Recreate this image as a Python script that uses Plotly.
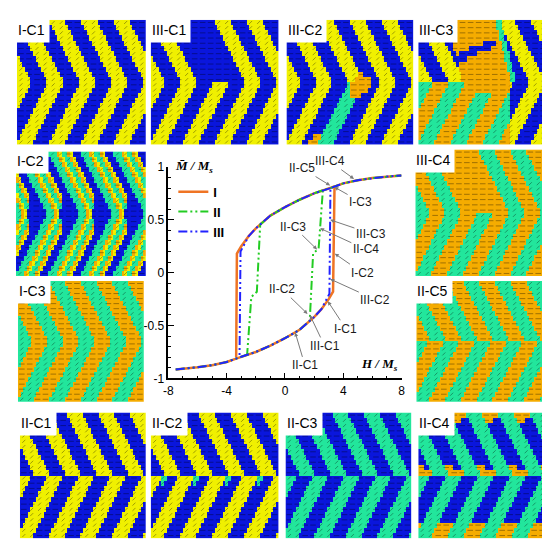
import plotly.graph_objects as go

W, H = 550, 544

# ---- hysteresis loops: H/Ms and mean M/Ms, None splits the two branches ----
I_H = [-7.5, -7, -6, -5, -4, -3.4, -3, -2, -1, 0, 1, 1.7, 2, 2.5, 3.0, 3.3, 3.35, 3.4, 4, 5, 6, 7, 8,
       None, 3.4, 3.1, 2.6, 2, 1, 0, -1, -1.7, -2, -2.5, -3.0, -3.3, -3.35]
I_M = [-0.915, -0.91, -0.895, -0.875, -0.845, -0.815, -0.795, -0.75, -0.69, -0.62, -0.54, -0.455,
       -0.42, -0.345, -0.25, -0.18, 0.80, 0.815, 0.845, 0.875, 0.895, 0.91, 0.92,
       None, 0.815, 0.80, 0.78, 0.75, 0.69, 0.62, 0.54, 0.455, 0.42, 0.345, 0.25, 0.18, -0.80]

II_H = [-7.5, -7, -6, -5, -4, -3, -2, -1, 0, 1, 1.7, 1.93, 2.31, 2.6, 3.1, 4, 5, 6, 7, 8,
        None, 2.6, 2, 1, 0, -1, -1.7, -1.93, -2.31, -2.6]
II_M = [-0.915, -0.91, -0.895, -0.875, -0.845, -0.795, -0.75, -0.69, -0.62, -0.54, -0.455,
        0.18, 0.23, 0.78, 0.80, 0.845, 0.875, 0.895, 0.91, 0.92,
        None, 0.78, 0.75, 0.69, 0.62, 0.54, 0.455, -0.18, -0.23, -0.78]

III_H = [-7.5, -7, -6, -5, -4, -3, -2, -1, 0, 1, 2, 2.5, 3.05, 3.12, 4, 5, 6, 7, 8,
         None, 3.12, 2.6, 2, 1, 0, -1, -2, -2.5, -3.05, -3.12]
III_M = [-0.915, -0.91, -0.895, -0.875, -0.845, -0.795, -0.75, -0.69, -0.62, -0.54, -0.42,
         -0.345, -0.2, 0.80, 0.845, 0.875, 0.895, 0.91, 0.92,
         None, 0.80, 0.78, 0.75, 0.69, 0.62, 0.54, 0.42, 0.345, 0.2, -0.80]

# callouts on the loop: label, arrow tip (H, M), label position (H, M)
CALL_TEXT = ["III-C4", "II-C5", "I-C3", "II-C3", "III-C3", "II-C4",
             "I-C2", "III-C2", "II-C2", "I-C1", "III-C1", "II-C1"]
CALL_TIP_H = [4.74, 3.1, 3.39, 2.2, 3.1, 2.41, 3.42, 3.1, 1.55, 2.94, 1.71, 0.7]
CALL_TIP_M = [0.887, 0.825, 0.81, 0.22, 0.50, 0.42, 0.18, -0.06, -0.39, -0.27, -0.40, -0.565]
CALL_TXT_H = [3.06, 1.15, 5.19, 0.58, 5.9, 5.55, 5.3, 6.2, -0.2, 4.18, 2.72, 1.37]
CALL_TXT_M = [1.055, 0.99, 0.67, 0.436, 0.37, 0.22, 0.0, -0.255, -0.156, -0.53, -0.693, -0.877]

X_TICKS = [-8, -4, 0, 4, 8]
X_TICK_TEXT = ["-8", "-4", "0", "4", "8"]
Y_TICKS = [-1, -0.5, 0, 0.5, 1]
Y_TICK_TEXT = ["-1", "-0.5", "0", "0.5", "1"]

# ---- domain snapshots, 24 rows x 48 columns, top row first ----
# B = blue, Y = yellow, G = green, O = orange
I_C1 = [
    "YYYYYYBBBBBBYYYYYYBBBBBBYYYYYYBBBBBBYYYYYYBBBBBB",
    "BYYYYYYBBBBBBYYYYYYBBBBBBYYYYYYBBBBBBYYYYYYBBBBB",
    "BBYYYYYYBBBBBBYYYYYYBBBBBBYYYYYYBBBBBBYYYYYYBBBB",
    "BBBYYYYYYBBBBBBYYYYYYBBBBBBYYYYYYBBBBBBYYYYYYBBB",
    "BBBBYYYYYYBBBBBBYYYYYYBBBBBBYYYYYYBBBBBBYYYYYYBB",
    "BBBBBYYYYYYBBBBBBYYYYYYBBBBBBYYYYYYBBBBBBYYYYYYB",
    "BBBBBBYYYYYYBBBBBBYYYYYYBBBBBBYYYYYYBBBBBBYYYYYY",
    "YBBBBBBYYYYYYBBBBBBYYYYYYBBBBBBYYYYYYBBBBBBYYYYY",
    "YYBBBBBBYYYYYYBBBBBBYYYYYYBBBBBBYYYYYYBBBBBBYYYY",
    "YYYBBBBBBYYYYYYBBBBBBYYYYYYBBBBBBYYYYYYBBBBBBYYY",
    "YYYYBBBBBBYYYYYYBBBBBBYYYYYYBBBBBBYYYYYYBBBBBBYY",
    "YYYYYBBBBBBYYYYYYBBBBBBYYYYYYBBBBBBYYYYYYBBBBBBY",
    "YYYYYBBBBBBYYYYYYBBBBBBYYYYYYBBBBBBYYYYYYBBBBBBY",
    "YYYYBBBBBBYYYYYYBBBBBBYYYYYYBBBBBBYYYYYYBBBBBBYY",
    "YYYBBBBBBYYYYYYBBBBBBYYYYYYBBBBBBYYYYYYBBBBBBYYY",
    "YYBBBBBBYYYYYYBBBBBBYYYYYYBBBBBBYYYYYYBBBBBBYYYY",
    "YBBBBBBYYYYYYBBBBBBYYYYYYBBBBBBYYYYYYBBBBBBYYYYY",
    "BBBBBBYYYYYYBBBBBBYYYYYYBBBBBBYYYYYYBBBBBBYYYYYY",
    "BBBBBYYYYYYBBBBBBYYYYYYBBBBBBYYYYYYBBBBBBYYYYYYB",
    "BBBBYYYYYYBBBBBBYYYYYYBBBBBBYYYYYYBBBBBBYYYYYYBB",
    "BBBYYYYYYBBBBBBYYYYYYBBBBBBYYYYYYBBBBBBYYYYYYBBB",
    "BBYYYYYYBBBBBBYYYYYYBBBBBBYYYYYYBBBBBBYYYYYYBBBB",
    "BYYYYYYBBBBBBYYYYYYBBBBBBYYYYYYBBBBBBYYYYYYBBBBB",
    "YYYYYYBBBBBBYYYYYYBBBBBBYYYYYYBBBBBBYYYYYYBBBBBB",
]

III_C1 = [
    "YYYYYYBBBBBBBBBBBBBBBBBBYYYYYYBBBBBBYYYYYYBBBBBB",
    "BYYYYYYBBBBBBBBBBBBBBBBBBYYYYYYBBBBBBYYYYYYBBBBB",
    "BBYYYYYYBBBBBBBBBBBBBBBBBBYYYYYYBBBBBBYYYYYYBBBB",
    "BBBYYYYYYBBBBBBBBBBBBBBBBBBYYYYYYBBBBBBYYYYYYBBB",
    "BBBBYYYYYYBBBBBBBBBBBBBBBBBBYYYYYYBBBBBBYYYYYYBB",
    "BBBBBYYYYYYBBBBBBBBBBBBBBBBBBYYYYYYBBBBBBYYYYYYB",
    "BBBBBBYYYYYYBBBBBBBBBBBBBBBBBBYYYYYYBBBBBBYYYYYY",
    "YBBBBBBYYYYYYBBBBBBBBBBBBBBBBBBYYYYYYBBBBBBYYYYY",
    "YYBBBBBBYYYYYYBBBBBBBBBBBBBBBBBBYYYYYYBBBBBBYYYY",
    "YYYBBBBBBYYYYYYBBBBBBBBBBBBBBBBBBYYYYYYBBBBBBYYY",
    "YYYYBBBBBBYYYYYYBBBBBBBBBBBBBBBBBBYYYYYYBBBBBBYY",
    "YYYYYBBBBBBYYYYYYBBBBBBBBBBBBBBBBBBYYYYYYBBBBBBY",
    "YYYYYBBBBBBYYYYYYBBBBBBYYYYYYBBBBBBYYYYYYBBBBBBY",
    "YYYYBBBBBBYYYYYYBBBBBBYYYYYYBBBBBBYYYYYYBBBBBBYY",
    "YYYBBBBBBYYYYYYBBBBBBYYYYYYBBBBBBYYYYYYBBBBBBYYY",
    "YYBBBBBBYYYYYYBBBBBBYYYYYYBBBBBBYYYYYYBBBBBBYYYY",
    "YBBBBBBYYYYYYBBBBBBYYYYYYBBBBBBYYYYYYBBBBBBYYYYY",
    "BBBBBBYYYYYYBBBBBBYYYYYYBBBBBBYYYYYYBBBBBBYYYYYY",
    "BBBBBYYYYYYBBBBBBYYYYYYBBBBBBYYYYYYBBBBBBYYYYYYB",
    "BBBBYYYYYYBBBBBBYYYYYYBBBBBBYYYYYYBBBBBBYYYYYYBB",
    "BBBYYYYYYBBBBBBYYYYYYBBBBBBYYYYYYBBBBBBYYYYYYBBB",
    "BBYYYYYYBBBBBBYYYYYYBBBBBBYYYYYYBBBBBBYYYYYYBBBB",
    "BYYYYYYBBBBBBYYYYYYBBBBBBYYYYYYBBBBBBYYYYYYBBBBB",
    "YYYYYYBBBBBBYYYYYYBBBBBBYYYYYYBBBBBBYYYYYYBBBBBB",
]

III_C2 = [
    "YYYYYYBBBBBBYYYYYYBBBBBBYYYYYYBBBBBBYYYYYYBBBBBB",
    "BYYYYYYBBBBBBYYYYYYBBBBBBYYYYYYBBBBBBYYYYYYBBBBB",
    "BBYYYYYYBBBBBBYYYYYYBBBBBBYYYYYYBBBBBBYYYYYYBBBB",
    "BBBYYYYYYBBBBBBYYYYYYBBBBBBYYYYYYBBBBBBYYYYYYBBB",
    "BBBBYYYYYYBBBBBBYYYYYYBBBBBBYYYYYYBBBBBBYYYYYYBB",
    "BBBBBYYYYYYBBBBBBYYYYYYBBBBBBYYYYYYBBBBBBYYYYYYB",
    "BBBBBBYYYYYYBBBBBBYYYYYYBBBBBBYYYYYYBBBBBBYYYYYY",
    "YBBBBBBYYYYYYBBBBBBYYYYYYBBBBBBYYYYYYBBBBBBYYYYY",
    "YYBBBBBBYYYYYYBBBBBBYYYYYYBBBBBBYYYYYYBBBBBBYYYY",
    "YYYBBBBBBYYYYYYBBBBBBYYYYYYBBBBBBYYYYYYBBBBBBYYY",
    "YYYYBBBBBBYYYYYYBBBBBBYYYYYOOBBBBBYYYYYYBBBBBBYY",
    "YYYYYBBBBBBYYYYYYBBBBBBYYYOOOOOOBBBYYYYYYBBBBBBY",
    "YYYYYBBBBBBYYYYYYBBBBBBGOOOOOOOOBBBYYYYYYBBBBBBY",
    "YYYYBBBBBBYYYYYYBBBBBBGGOOOOOOOBBBYYYYYYBBBBBBYY",
    "YYYBBBBBBYYYYYYBBBBBBGGGOOOOBBBBBYYYYYYBBBBBBYYY",
    "YYBBBBBBYYYYYYBBBBBBGGGGGGBBBBBBYYYYYYBBBBBBYYYY",
    "YBBBBBBYYYYYYBBBBBBGGGGGGBBBBBBYYYYYYBBBBBBYYYYY",
    "BBBBBBYYYYYYBBBBBBGGGGGGBBBBBBYYYYYYBBBBBBYYYYYY",
    "BBBBBYYYYYYBBBBBBGGGGGGBBBBBBYYYYYYBBBBBBYYYYYYB",
    "BBBBYYYYYYBBBBBBGGGGGGBBBBBBYYYYYYBBBBBBYYYYYYBB",
    "BBBYYYYYYBBBBBBGGGGGGBBBBBBYYYYYYBBBBBBYYYYYYBBB",
    "BBYYYYYYBBBBBBGGGGGGBBBBBBYYYYYYBBBBBBYYYYYYBBBB",
    "BYYYYYYBBBOOOGGGGGGBBBBBBYYYYYYBBBBBBYYYYYYBBBBB",
    "YYYYYYBBOOOOGGGGGGBBBBBBYYYYYYBBBBBBYYYYYYBBBBBB",
]

III_C3 = [
    "YYYYYYBBBBBOOOOOOOOOOOOOOOOOOGGYYYYYBBBBBBYYYYYY",
    "BYYYYYYBBBBOOOOOOOOOOOOOOOOOOGGYYYYYYBBBBBBYYYYY",
    "BBYYYYYYBBBBOOOOOOOOOOOOOOOOOOGGYYYYYYBBBBBBYYYY",
    "BBBYYYYYYBBBOOOOOOOOOOOOOOOOOOGGBYYYYYYBBBBBBYYY",
    "BBBBYYYYYYBBBOOOOOOOOOOOBBBBBOOGGBYYYYYYBBBBBBYY",
    "BBBBBYYYYYYBBOOOOOOBBBBBBBBOOOOGGBBYYYYYYBBBBBBY",
    "BBBBBBYYYYYYBBOBBBBBBBOOOOOOOOOOGGBBYYYYYYBBBBBB",
    "YBBBBBBYYYYYYBBBBBOOOOOOOOOOOOOOGGBBBYYYYYYBBBBB",
    "YYBBBBBBYYYYYYBOOOOOOOOOOOOOOOOOOGGBBBYYYYYYBBBB",
    "YYYBBBBBBYYYYYYOOOOOOOOOOOOOOOOOOGGBBBBYYYYYYBBB",
    "YYYYBBBBBBYYYYYYOOOOOOOOOOOOOOOOOOGGBBBBYYYYYYBB",
    "YYYYYBBBBBBYYYYYOOOOOOOOOOOOOOOOOOGGBBBBBYYYYYYB",
    "GGGGGOOOOOOGGGGGGOOOOOOOOOOOOOOOOOYBBBBBBYYYYYYB",
    "GGGGOOOOOOGGGGGGOOOOOOOOOOOOOOOOOOBBBBBBYYYYYYBB",
    "GGGOOOOOOGGGGGGOOOOOOGGGGGGOOOOOOGBBBBBYYYYYYBBB",
    "GGOOOOOOGGGGGGOOOOOOGGGGGGOOOOOOGGBBBBYYYYYYBBBB",
    "GOOOOOOGGGGGGOOOOOOGGGGGGOOOOOOGGGBBBYYYYYYBBBBB",
    "OOOOOOGGGGGGOOOOOOGGGGGGOOOOOOGGGGBBYYYYYYBBBBBB",
    "OOOOOGGGGGGOOOOOOGGGGGGOOOOOOGGGGGBYYYYYYBBBBBBY",
    "OOOOGGGGGGOOOOOOGGGGGGOOOOOOGGGGGGYYYYYYBBBBBBYY",
    "OOOGGGGGGOOOOOOGGGGGGOOOOOOGGGGGGOYYYYYBBBBBBYYY",
    "OOGGGGGGOOOOOOGGGGGGOOOOOOGGGGGGOOYYYYBBBBBBYYYY",
    "OGGGGGGOOOOOOGGGGGGOOOOOOGGGGGGOOOYYYBBBBBBYYYYY",
    "GGGGGGOOOOOOGGGGGGOOOOOOGGGGGGOOOOYYBBBBBBYYYYYY",
]

I_C2 = [
    "GGGOYGGOYBBBGGGOYGGOYBBBGGGOYGGOYBBBGGGOYGGOYBBB",
    "BGGGOYGGOYBBBGGGOYGGOYBBBGGGOYGGOYBBBGGGOYGGOYBB",
    "BBGGGOYGGOYBBBGGGOYGGOYBBBGGGOYGGOYBBBGGGOYGGOYB",
    "BBBGGGOYGGOYBBBGGGOYGGOYBBBGGGOYGGOYBBBGGGOYGGOY",
    "YBBBGGGOYGGOYBBBGGGOYGGOYBBBGGGOYGGOYBBBGGGOYGGO",
    "OYBBBGGGOYGGOYBBBGGGOYGGOYBBBGGGOYGGOYBBBGGGOYGG",
    "GOYBBBGGGOYGGOYBBBGGGOYGGOYBBBGGGOYGGOYBBBGGGOYG",
    "GGOYBBBGGGOYGGOYBBBGGGOYGGOYBBBGGGOYGGOYBBBGGGOY",
    "YGGOYBBBGGGOYGGOYBBBGGGOYGGOYBBBGGGOYGGOYBBBGGGO",
    "OYGGOBBBBGGGOYGGOBBBBGGGOYGGOBBBBGGGOYGGOBBBBGGG",
    "GOYGGBBBBBGGGOYGGBBBBBGGGOYGGBBBBBGGGOYGGBBBBBGG",
    "GGOYBBBBBBBGGGOYBBBBBBBGGGOYBBBBBBBGGGOYBBBBBBBG",
    "GGOYBBBBBBBGGGOYBBBBBBBGGGOYBBBBBBBGGGOYBBBBBBBG",
    "GOYGGBBBBBGGGOYGGBBBBBGGGOYGGBBBBBGGGOYGGBBBBBGG",
    "OYGGOBBBBGGGOYGGOBBBBGGGOYGGOBBBBGGGOYGGOBBBBGGG",
    "YGGOYBBBGGGOYGGOYBBBGGGOYGGOYBBBGGGOYGGOYBBBGGGO",
    "GGOYBBBGGGOYGGOYBBBGGGOYGGOYBBBGGGOYGGOYBBBGGGOY",
    "GOYBBBGGGOYGGOYBBBGGGOYGGOYBBBGGGOYGGOYBBBGGGOYG",
    "OYBBBGGGOYGGOYBBBGGGOYGGOYBBBGGGOYGGOYBBBGGGOYGG",
    "YBBBGGGOYGGOYBBBGGGOYGGOYBBBGGGOYGGOYBBBGGGOYGGO",
    "BBBGGGOYGGOYBBBGGGOYGGOYBBBGGGOYGGOYBBBGGGOYGGOY",
    "BBGGGOYGGOYBBBGGGOYGGOYBBBGGGOYGGOYBBBGGGOYGGOYB",
    "BGGGOYGGOYBBBGGGOYGGOYBBBGGGOYGGOYBBBGGGOYGGOYBB",
    "GGGOYGGOYBBBGGGOYGGOYBBBGGGOYGGOYBBBGGGOYGGOYBBB",
]

II_C1 = [
    "BBBBBBYYYYYYBBBBBBYYYYYYBBBBBBYYYYYYBBBBBBYYYYYY",
    "YBBBBBBYYYYYYBBBBBBYYYYYYBBBBBBYYYYYYBBBBBBYYYYY",
    "YYBBBBBBYYYYYYBBBBBBYYYYYYBBBBBBYYYYYYBBBBBBYYYY",
    "YYYBBBBBBYYYYYYBBBBBBYYYYYYBBBBBBYYYYYYBBBBBBYYY",
    "YYYYBBBBBBYYYYYYBBBBBBYYYYYYBBBBBBYYYYYYBBBBBBYY",
    "YYYYYBBBBBBYYYYYYBBBBBBYYYYYYBBBBBBYYYYYYBBBBBBY",
    "YYYYYYBBBBBBYYYYYYBBBBBBYYYYYYBBBBBBYYYYYYBBBBBB",
    "BYYYYYYBBBBBBYYYYYYBBBBBBYYYYYYBBBBBBYYYYYYBBBBB",
    "BBYYYYYYBBBBBBYYYYYYBBBBBBYYYYYYBBBBBBYYYYYYBBBB",
    "BBBYYYYYYBBBBBBYYYYYYBBBBBBYYYYYYBBBBBBYYYYYYBBB",
    "BBBBYYYYYYBBBBBBYYYYYYBBBBBBYYYYYYBBBBBBYYYYYYBB",
    "BBBBBYYYYYYBBBBBBYYYYYYBBBBBBYYYYYYBBBBBBYYYYYYB",
    "YYYYBBBBBBYYYYYYBBBBBBYYYYYYBBBBBBYYYYYYBBBBBBYY",
    "YYYBBBBBBYYYYYYBBBBBBYYYYYYBBBBBBYYYYYYBBBBBBYYY",
    "YYBBBBBBYYYYYYBBBBBBYYYYYYBBBBBBYYYYYYBBBBBBYYYY",
    "YBBBBBBYYYYYYBBBBBBYYYYYYBBBBBBYYYYYYBBBBBBYYYYY",
    "BBBBBBYYYYYYBBBBBBYYYYYYBBBBBBYYYYYYBBBBBBYYYYYY",
    "BBBBBYYYYYYBBBBBBYYYYYYBBBBBBYYYYYYBBBBBBYYYYYYB",
    "BBBBYYYYYYBBBBBBYYYYYYBBBBBBYYYYYYBBBBBBYYYYYYBB",
    "BBBYYYYYYBBBBBBYYYYYYBBBBBBYYYYYYBBBBBBYYYYYYBBB",
    "BBYYYYYYBBBBBBYYYYYYBBBBBBYYYYYYBBBBBBYYYYYYBBBB",
    "BYYYYYYBBBBBBYYYYYYBBBBBBYYYYYYBBBBBBYYYYYYBBBBB",
    "YYYYYYBBBBBBYYYYYYBBBBBBYYYYYYBBBBBBYYYYYYBBBBBB",
    "YYYYYBBBBBBYYYYYYBBBBBBYYYYYYBBBBBBYYYYYYBBBBBBY",
]

II_C2 = II_C1[:12] + [
    "YYYYGGBBBBYYYYYYGGBBBBYYYYYYGGBBBBYYYYYYGGBBBBYY",
    "YYYBGBBBBYYYYYYBGBBBBYYYYYYBGBBBBYYYYYYBGBBBBYYY",
] + II_C1[14:]

II_C4 = [
    "OOOOOOGGGGGGOOOOOOGGGGGGOOOOOOGGGGGGOOOOOOGGGGGG",
    "GOOOBBBGGGGGGOOOBBBGGGGGGOOOBBBGGGGGGOOOBBBGGGGG",
    "GGBBBBBBGGGGGGBBBBBBGGGGGGBBBBBBGGGGGGBBBBBBGGGG",
    "GGGBBBBBBGGGGGGBBBBBBGGGGGGBBBBBBGGGGGGBBBBBBGGG",
    "GGGGBBBBBBGGGGGGBBBBBBGGGGGGBBBBBBGGGGGGBBBBBBGG",
    "GGGGGBBBBBBGGGGGGBBBBBBGGGGGGBBBBBBGGGGGGBBBBBBG",
    "GGGGGGBBBBBBGGGGGGBBBBBBGGGGGGBBBBBBGGGGGGBBBBBB",
    "BGGGGGGBBBBBBGGGGGGBBBBBBGGGGGGBBBBBBGGGGGGBBBBB",
    "BBGGGGGGBBBBBBGGGGGGBBBBBBGGGGGGBBBBBBGGGGGGBBBB",
    "BBBGGGGGGBBBBBBGGGGGGBBBBBBGGGGGGBBBBBBGGGGGGBBB",
    "OOBBGGGGGGOOOBBBGGGGGGOOOBBBGGGGGGOOOBBBGGGGGGOO",
    "OOOOOGGGGGGOOOOOOGGGGGGOOOOOOGGGGGGOOOOOOGGGGGGO",
    "GGGGBBBBBBGGGGGGBBBBBBGGGGGGBBBBBBGGGGGGBBBBBBGG",
    "GGGBBBBBBGGGGGGBBBBBBGGGGGGBBBBBBGGGGGGBBBBBBGGG",
    "GGBBBBBBGGGGGGBBBBBBGGGGGGBBBBBBGGGGGGBBBBBBGGGG",
    "GBBBBBBGGGGGGBBBBBBGGGGGGBBBBBBGGGGGGBBBBBBGGGGG",
    "BBBBBBGGGGGGBBBBBBGGGGGGBBBBBBGGGGGGBBBBBBGGGGGG",
    "BBBBBGGGGGGBBBBBBGGGGGGBBBBBBGGGGGGBBBBBBGGGGGGB",
    "BBBBGGGGGGBBBBBBGGGGGGBBBBBBGGGGGGBBBBBBGGGGGGBB",
    "BBBGGGGGGBBBBBBGGGGGGBBBBBBGGGGGGBBBBBBGGGGGGBBB",
    "BBGGGGGGBBBBBBGGGGGGBBBBBBGGGGGGBBBBBBGGGGGGBBBB",
    "OGGGGGGOOOOOOGGGGGGOOOOOOGGGGGGOOOOOOGGGGGGOOOOO",
    "GGGGGGOOOOOOGGGGGGOOOOOOGGGGGGOOOOOOGGGGGGOOOOOO",
    "GGGGGOOOOOOGGGGGGOOOOOOGGGGGGOOOOOOGGGGGGOOOOOOG",
]


def recolor(grid, swap):
    return ["".join(swap.get(ch, ch) for ch in row) for row in grid]


# same topology as their yellow/blue twins, other pair of states
I_C3 = recolor(I_C1, {"Y": "G", "B": "O"})
III_C4 = recolor(III_C1, {"Y": "G", "B": "O"})
II_C3 = recolor(II_C1, {"Y": "G"})
II_C5 = recolor(II_C1, {"Y": "G", "B": "O"})

PANELS = [("I-C1", I_C1), ("III-C1", III_C1), ("III-C2", III_C2), ("III-C3", III_C3),
          ("I-C2", I_C2), ("III-C4", III_C4), ("I-C3", I_C3), ("II-C5", II_C5),
          ("II-C1", II_C1), ("II-C2", II_C2), ("II-C3", II_C3), ("II-C4", II_C4)]

# pixel boxes of the snapshots: left, right, top, bottom
BOX = {
    "I-C1": (4, 135, 5, 133), "III-C1": (140, 270, 5, 133),
    "III-C2": (278, 407, 5, 133), "III-C3": (412, 543, 5, 133),
    "I-C2": (3, 135, 140, 268), "III-C4": (409, 538, 138, 268),
    "I-C3": (5, 133, 273, 397), "II-C5": (410, 538, 273, 397),
    "II-C1": (7, 135, 408, 537), "II-C2": (140, 270, 408, 537),
    "II-C3": (277, 405, 408, 537), "II-C4": (412, 542, 408, 537),
}

CODE = {"B": 0, "Y": 1, "G": 2, "O": 3}
BLUE, YELLOW, GREEN, ORANGE = "#0a16dc", "#f0f000", "#22e69c", "#f5ac00"
SCALE = [[0, BLUE], [0.25, BLUE], [0.25, YELLOW], [0.5, YELLOW],
         [0.5, GREEN], [0.75, GREEN], [0.75, ORANGE], [1, ORANGE]]

fig = go.Figure()
annotations = []

for i, (name, grid) in enumerate(PANELS, start=2):
    x0, x1, yt, yb = BOX[name]
    rows = [(row + row[-1] * 48)[:48] for row in grid]
    z = [[CODE[ch] for ch in row] for row in rows]
    fig.add_trace(go.Heatmap(z=z, xaxis=f"x{i}", yaxis=f"y{i}", colorscale=SCALE,
                             zmin=-0.5, zmax=3.5, showscale=False, hoverinfo="skip"))

    # magnetisation arrows: along x in blue/orange cells, tilted in yellow/green ones
    ax_x, ax_y, ax_sym, ax_size = [], [], [], []
    for r, row in enumerate(rows):
        for c in range(1, 48, 3):
            flat = row[c] in "BO"
            ax_x.append(c)
            ax_y.append(r)
            ax_sym.append("line-ew" if flat else "line-ne")
            ax_size.append(4 if flat else 3)
    fig.add_trace(go.Scatter(x=ax_x, y=ax_y, xaxis=f"x{i}", yaxis=f"y{i}", mode="markers",
                             marker=dict(symbol=ax_sym, size=ax_size,
                                         line=dict(width=0.9, color="rgba(0,0,0,0.55)")),
                             showlegend=False, hoverinfo="skip"))

    fig.update_layout({
        f"xaxis{i}": dict(domain=[x0 / W, x1 / W], anchor=f"y{i}", visible=False,
                          range=[-0.5, 47.5], fixedrange=True),
        f"yaxis{i}": dict(domain=[1 - yb / H, 1 - yt / H], anchor=f"x{i}", visible=False,
                          range=[23.5, -0.5], fixedrange=True),
    })
    annotations.append(dict(xref="paper", yref="paper", x=(x0 - 4) / W, y=1 - (yt - 3) / H,
                            xanchor="left", yanchor="top", text=name, showarrow=False,
                            bgcolor="white", borderpad=4,
                            font=dict(family="Liberation Sans", size=14, color="black")))

dash = "9px,3px,2px,3px,2px,3px"
fig.add_trace(go.Scatter(x=I_H, y=I_M, mode="lines", name="<b>I</b>",
                         line=dict(color="#ef7424", width=2.5)))
fig.add_trace(go.Scatter(x=II_H, y=II_M, mode="lines", name="<b>II</b>",
                         line=dict(color="#22cc22", width=2, dash=dash)))
fig.add_trace(go.Scatter(x=III_H, y=III_M, mode="lines", name="<b>III</b>",
                         line=dict(color="#2222ff", width=2, dash=dash)))

for t, th, tm, lh, lm in zip(CALL_TEXT, CALL_TIP_H, CALL_TIP_M, CALL_TXT_H, CALL_TXT_M):
    annotations.append(dict(x=th, y=tm, ax=lh, ay=lm, xref="x", yref="y", axref="x", ayref="y",
                            text=t, showarrow=True, arrowhead=2, arrowsize=0.8, arrowwidth=1,
                            arrowcolor="#7a7a7a", standoff=0,
                            font=dict(family="Liberation Sans", size=12, color="#1a1a1a")))

annotations.append(dict(x=-7.7, y=1.0, xref="x", yref="y", xanchor="left", yanchor="middle",
                        text="<b><i>M&#772; / M<sub>s</sub></i></b>", showarrow=False,
                        font=dict(family="Liberation Serif", size=13, color="black")))
annotations.append(dict(x=7.9, y=-0.87, xref="x", yref="y", xanchor="right", yanchor="middle",
                        text="<b><i>H / M<sub>s</sub></i></b>", showarrow=False,
                        font=dict(family="Liberation Serif", size=13, color="black")))

axis_style = dict(showline=True, linecolor="black", linewidth=1.5, ticks="inside", ticklen=6,
                  tickcolor="black", showgrid=False, zeroline=False, fixedrange=True,
                  tickfont=dict(family="Liberation Sans", size=12, color="black"))

fig.update_layout(
    width=W, height=H, margin=dict(l=0, r=0, t=0, b=0),
    paper_bgcolor="white", plot_bgcolor="white",
    xaxis=dict(domain=[158 / W, 395 / W], anchor="y", range=[-8, 8],
               tickvals=X_TICKS, ticktext=X_TICK_TEXT,
               minor=dict(dtick=1, ticks="inside", ticklen=3, tickcolor="black"), **axis_style),
    yaxis=dict(domain=[1 - 373 / H, 1 - 156 / H], anchor="x", range=[-1, 1],
               tickvals=Y_TICKS, ticktext=Y_TICK_TEXT,
               minor=dict(dtick=0.1, ticks="inside", ticklen=3, tickcolor="black"), **axis_style),
    legend=dict(x=163 / W, y=1 - 166 / H, xanchor="left", yanchor="top",
                bgcolor="rgba(0,0,0,0)", tracegroupgap=0,
                font=dict(family="Liberation Sans", size=13, color="black")),
    annotations=annotations,
)

fig.write_html("out.html")
